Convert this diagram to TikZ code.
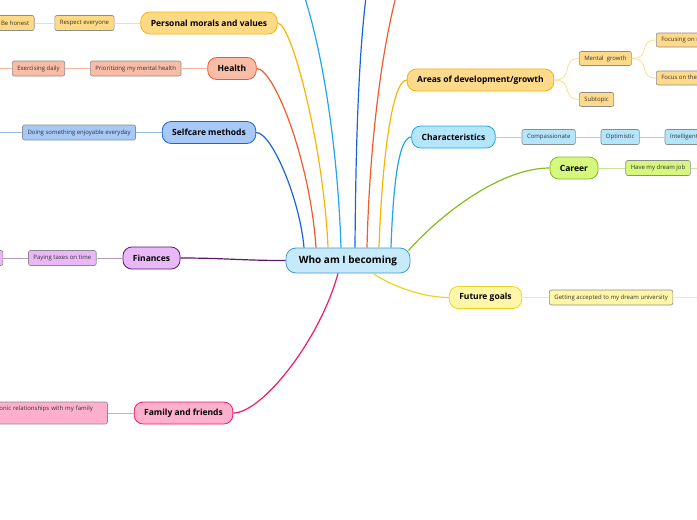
\documentclass[tikz,border=0pt]{standalone}
\usepackage{fontspec}
\setmainfont{Open Sans}
\usetikzlibrary{positioning}
\definecolor{rootline}{HTML}{4098D4}
\definecolor{rootfill}{HTML}{C7EAFA}
\definecolor{pmline}{HTML}{F8B500}
\definecolor{pmfill}{HTML}{FFD983}
\definecolor{hlline}{HTML}{F25A2B}
\definecolor{hlfill}{HTML}{F9BCA6}
\definecolor{scline}{HTML}{1765D9}
\definecolor{scfill}{HTML}{A7C9F7}
\definecolor{fnline}{HTML}{5E176F}
\definecolor{fnfill}{HTML}{E9B8F7}
\definecolor{ffline}{HTML}{F0176E}
\definecolor{fffill}{HTML}{FDB0CC}
\definecolor{fgline}{HTML}{ECD41E}
\definecolor{fgfill}{HTML}{FFF6A9}
\definecolor{crline}{HTML}{84BE17}
\definecolor{crfill}{HTML}{D5F77E}
\definecolor{chline}{HTML}{1FA6EC}
\definecolor{chfill}{HTML}{B4E5FA}
\definecolor{adline}{HTML}{F8B400}
\definecolor{adfill}{HTML}{FFDA8A}

\begin{document}
\begin{tikzpicture}[x=1pt, y=-1pt, node distance=26pt]
  \tikzset{
    root/.style={rectangle, rounded corners=10pt, draw=rootline, fill=rootfill,
      line width=0.8pt, font=\bfseries\fontsize{10}{12}\selectfont,
      minimum height=25pt, inner xsep=13pt},
    topic/.style={rectangle, rounded corners=9pt, draw=#1line, fill=#1fill,
      line width=0.8pt, font=\bfseries\fontsize{8.5}{10}\selectfont,
      minimum height=22pt, inner xsep=10pt},
    sub/.style={rectangle, rounded corners=2pt, draw=black!45, fill=#1fill,
      line width=0.6pt, font=\fontsize{6}{7}\selectfont, text=black!80,
      minimum height=15pt, inner xsep=5pt},
    branch/.style={draw=#1line, line width=1.2pt},
    link/.style={draw=#1line!45, line width=0.8pt},
  }
  \useasboundingbox (0,0) rectangle (697,520);
  \clip (0,0) rectangle (697,520);

  % main topics
  \node[root] (root) at (348,260.5) {Who am I becoming};
  \node[topic=pm] (pm) at (209,23) {Personal morals and values};
  \node[topic=hl] (health) at (232,68.5) {Health};
  \node[topic=sc] (selfcare) at (209,132.5) {Selfcare methods};
  \node[topic=fn] (finances) at (151.5,258) {Finances};
  \node[topic=ff] (family) at (183.5,413) {Family and friends};
  \node[topic=ad] (areas) at (480.5,80) {Areas of development/growth};
  \node[topic=ch] (chars) at (453.5,137) {Characteristics};
  \node[topic=cr] (career) at (574,168) {Career};
  \node[topic=fg] (future) at (485.5,297.5) {Future goals};

  % subtopics
  \node[sub=pm, left=of pm] (respect) {Respect everyone};
  \node[sub=pm, left=20pt of respect] (honest) {Be honest};
  \node[sub=hl, left=of health] (mind) {Prioritizing my mental health};
  \node[sub=hl, left=25pt of mind] (exercise) {Exercising daily};
  \node[sub=sc, left=of selfcare] (enjoy) {Doing something enjoyable everyday};
  \node[sub=fn, left=of finances] (taxes) {Paying taxes on time};
  \node[sub=fn, left=25pt of taxes, minimum width=40pt] (taxesprev) {};
  \node[sub=ff, left=of family, text width=103pt, align=left, text height=4pt,
        text depth=10pt, inner ysep=4pt] (relations) {onic relationships with my family};
  \node[sub=fg, right=27pt of future] (univ) {Getting accepted to my dream university};
  \node[sub=cr, right=27pt of career] (job) {Have my dream job};
  \node[sub=ch, right=of chars] (compassion) {Compassionate};
  \node[sub=ch, right=25pt of compassion] (optim) {Optimistic};
  \node[sub=ch, right=25pt of optim] (intel) {Intelligent};
  \node[sub=ad, anchor=west, minimum height=14pt] (growth) at (579,58.5) {Mental\ \ growth};
  \node[sub=ad, anchor=west, minimum height=14pt] (subtopic) at (579,99.5) {Subtopic};
  \node[sub=ad, anchor=west, minimum height=14pt] (focusing) at (656,40) {Focusing on myself};
  \node[sub=ad, anchor=west, minimum height=14pt] (present) at (656,78) {Focus on the present};

  % free ends off the page
  \coordinate (exerciseend) at (-10,68.5);
  \coordinate (enjoyend) at (-10,132.5);
  \coordinate (univend) at (710,297.5);
  \coordinate (jobend) at (710,168);
  \coordinate (upa) at (260,-80);
  \coordinate (upb) at (385,-80);
  \coordinate (upc) at (430,-80);

  % branches from the root
  \draw[branch=sc] ([xshift=-44]root.north) .. controls (300,200) and (272,132.5) .. (selfcare.east);
  \draw[branch=hl] ([xshift=-32]root.north) .. controls (310,160) and (274,68.5) .. (health.east);
  \draw[branch=pm] ([xshift=-20]root.north) .. controls (324,150) and (292,23) .. (pm.east);
  \draw[branch=ch] ([xshift=-7]root.north) .. controls (337,120) and (310,-50) .. (upa);
  \draw[branch=sc] ([xshift=7]root.north) .. controls (356,120) and (360,-40) .. (upb);
  \draw[branch=hl] ([xshift=19]root.north) .. controls (370,120) and (390,-40) .. (upc);
  \draw[branch=ad] ([xshift=31]root.north) .. controls (382,160) and (392,80) .. (areas.west);
  \draw[branch=ch] ([xshift=43]root.north) .. controls (393,190) and (398,137) .. (chars.west);
  \draw[branch=cr] ([xshift=-2,yshift=-3]root.north east) .. controls (440,215) and (500,168) .. (career.west);
  \draw[branch=fg] ([xshift=25]root.south) .. controls (395,288) and (425,297.5) .. (future.west);
  \draw[branch=ff] ([xshift=-10]root.south) .. controls (320,340) and (262,413) .. (family.east);
  \draw[branch=fn] (root.west) .. controls (240,260.5) and (225,258) .. (finances.east);

  % links between subtopics
  \draw[link=pm] (pm.west) -- (respect.east);
  \draw[link=pm] (respect.west) -- (honest.east);
  \draw[link=hl] (health.west) -- (mind.east);
  \draw[link=hl] (mind.west) -- (exercise.east);
  \draw[link=hl] (exercise.west) -- (exerciseend);
  \draw[link=sc] (selfcare.west) -- (enjoy.east);
  \draw[link=sc] (enjoy.west) -- (enjoyend);
  \draw[link=fn] (finances.west) -- (taxes.east);
  \draw[link=fn] (taxes.west) -- (taxesprev.east);
  \draw[link=ff] (family.west) -- (relations.east);
  \draw[link=fg] (future.east) -- (univ.west);
  \draw[link=fg] (univ.east) -- (univend);
  \draw[link=cr] (career.east) -- (job.west);
  \draw[link=cr] (job.east) -- (jobend);
  \draw[link=ch] (chars.east) -- (compassion.west);
  \draw[link=ch] (compassion.east) -- (optim.west);
  \draw[link=ch] (optim.east) -- (intel.west);
  \draw[link=ad] (areas.east) .. controls (575,80) and (560,58.5) .. (growth.west);
  \draw[link=ad] (areas.east) .. controls (575,80) and (560,99.5) .. (subtopic.west);
  \draw[link=ad] (growth.east) .. controls (652,58.5) and (637,40) .. (focusing.west);
  \draw[link=ad] (growth.east) .. controls (652,58.5) and (637,78) .. (present.west);
\end{tikzpicture}
\end{document}
